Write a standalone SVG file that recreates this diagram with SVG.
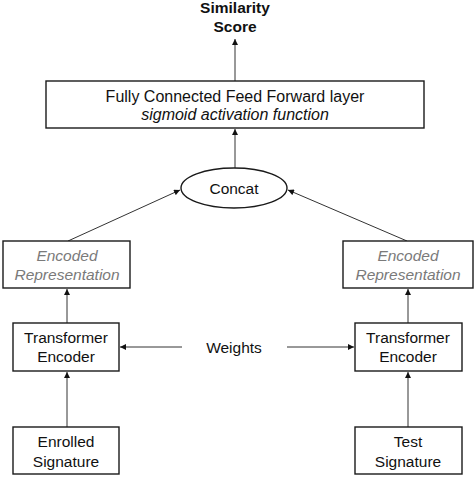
<svg xmlns="http://www.w3.org/2000/svg" width="474" height="500" viewBox="0 0 474 500">
<style>
text{font-family:"Liberation Sans",Arial,sans-serif;font-size:15.5px;fill:#111;text-anchor:middle}
.box{fill:#fff;stroke:#1a1a1a;stroke-width:1.4}
.it{font-style:italic}
.gray{fill:#7a7a7a}
.b{font-weight:bold}
.conn{stroke:#333;stroke-width:1;fill:none;marker-end:url(#ah)}
</style>
<defs>
<marker id="ah" viewBox="0 0 10 10" refX="10" refY="5" markerWidth="7" markerHeight="6" markerUnits="userSpaceOnUse" orient="auto">
<path d="M0,0 L10,5 L0,10 z" fill="#111"/>
</marker>
</defs>
<rect width="474" height="500" fill="#fff"/>
<g id="connectors">
<line class="conn" x1="235" y1="81" x2="235" y2="39"/>
<line class="conn" x1="235" y1="168" x2="235" y2="129"/>
<line class="conn" x1="68" y1="241" x2="180" y2="190"/>
<line class="conn" x1="407" y1="241" x2="288" y2="190"/>
<line class="conn" x1="67" y1="323" x2="67" y2="289"/>
<line class="conn" x1="408" y1="323" x2="408" y2="289"/>
<line class="conn" x1="67" y1="427" x2="67" y2="372"/>
<line class="conn" x1="408" y1="427" x2="408" y2="372"/>
<line class="conn" x1="182" y1="347" x2="120" y2="347"/>
<line class="conn" x1="287" y1="347" x2="354" y2="347"/>
</g>
<g id="similarity-score">
<text class="b" x="235" y="13">Similarity</text>
<text class="b" x="235" y="32">Score</text>
</g>
<g id="fc-layer">
<rect class="box" x="46" y="81" width="378" height="47"/>
<text x="235" y="102" style="font-size:16px">Fully Connected Feed Forward layer</text>
<text class="it" x="235" y="120" style="font-size:16px">sigmoid activation function</text>
</g>
<g id="concat">
<ellipse class="box" cx="234" cy="188" rx="53" ry="20"/>
<text x="234" y="194">Concat</text>
</g>
<g id="encoded-left">
<rect class="box" x="3" y="241" width="127" height="47"/>
<text class="it gray" x="67" y="261">Encoded</text>
<text class="it gray" x="67" y="280">Representation</text>
</g>
<g id="encoded-right">
<rect class="box" x="343" y="241" width="130" height="47"/>
<text class="it gray" x="408" y="261">Encoded</text>
<text class="it gray" x="408" y="280">Representation</text>
</g>
<g id="transformer-left">
<rect class="box" x="13" y="323" width="106" height="48"/>
<text x="66" y="343">Transformer</text>
<text x="66" y="362">Encoder</text>
</g>
<g id="transformer-right">
<rect class="box" x="355" y="323" width="107" height="48"/>
<text x="408" y="343">Transformer</text>
<text x="408" y="362">Encoder</text>
</g>
<g id="weights">
<text x="234" y="353">Weights</text>
</g>
<g id="enrolled">
<rect class="box" x="13" y="427" width="106" height="47"/>
<text x="66" y="447">Enrolled</text>
<text x="66" y="467">Signature</text>
</g>
<g id="test">
<rect class="box" x="355" y="427" width="107" height="47"/>
<text x="408" y="447">Test</text>
<text x="408" y="467">Signature</text>
</g>
</svg>
